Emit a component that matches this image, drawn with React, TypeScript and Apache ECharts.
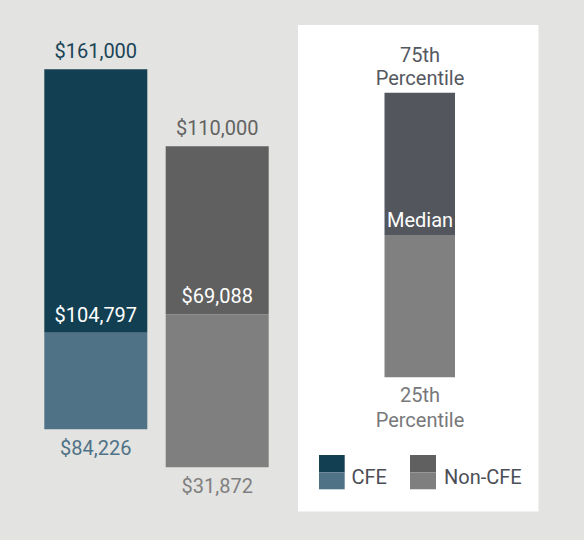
import React, { useEffect, useRef } from "react";
import * as echarts from "echarts";

// ---- data ----
const groups = ["CFE", "Non-CFE"];
const p25 = [84226, 31872];
const median = [104797, 69088];
const p75 = [161000, 110000];

// ---- styling / layout constants ----
const FONT = "Roboto, 'Noto Sans', sans-serif";
const BG = "#e3e3e1";
const darkColors = ["#123f52", "#5f605f"];
const lightColors = ["#4f7287", "#7f7f7f"];
const topLabelColors = ["#1a4458", "#636363"];
const lowLabelColors = ["#4f7287", "#808080"];
const barTopPx = [69.3, 146.3];
const barBottomPx = [429.3, 467.3];
const barLeftPx = [44.3, 165.7];
const barWidthPx = 103;
const CHART_H = 540;

const fmt = (v: number) => "$" + v.toLocaleString("en-US");

export default function App() {
  const ref = useRef<HTMLDivElement>(null);

  useEffect(() => {
    document.body.style.margin = "0";
    if (!ref.current) return;
    const chart = echarts.init(ref.current, undefined, { renderer: "svg" });

    const grids: any[] = [];
    const xAxes: any[] = [];
    const yAxes: any[] = [];
    const series: any[] = [];

    groups.forEach((g, i) => {
      const pxPerUnit = (barBottomPx[i] - barTopPx[i]) / (p75[i] - p25[i]);
      const height = CHART_H - barTopPx[i];
      const axisMin = p25[i] - (CHART_H - barBottomPx[i]) / pxPerUnit;
      grids.push({ left: barLeftPx[i], top: barTopPx[i], width: barWidthPx, height });
      xAxes.push({ type: "category", gridIndex: i, data: [g], show: false });
      yAxes.push({ type: "value", gridIndex: i, min: axisMin, max: p75[i], show: false });
      const stack = "s" + i;
      series.push({
        type: "bar",
        name: g + "-base",
        xAxisIndex: i,
        yAxisIndex: i,
        stack,
        barWidth: "100%",
        silent: true,
        itemStyle: { color: "rgba(0,0,0,0)" },
        data: [p25[i]],
        label: {
          show: true,
          position: "insideTop",
          distance: 8.5,
          formatter: () => fmt(p25[i]),
          color: lowLabelColors[i],
          fontSize: 20,
          fontFamily: FONT,
        },
      });
      series.push({
        type: "bar",
        name: g + "-lower",
        xAxisIndex: i,
        yAxisIndex: i,
        stack,
        barWidth: "100%",
        itemStyle: { color: lightColors[i] },
        data: [median[i] - p25[i]],
        z: 3,
        label: {
          show: true,
          position: "top",
          distance: 8,
          formatter: () => fmt(median[i]),
          color: "#ffffff",
          fontSize: 20,
          fontFamily: FONT,
        },
      });
      series.push({
        type: "bar",
        name: g + "-upper",
        xAxisIndex: i,
        yAxisIndex: i,
        stack,
        barWidth: "100%",
        itemStyle: { color: darkColors[i] },
        data: [p75[i] - median[i]],
        z: 2,
        label: {
          show: true,
          position: "top",
          distance: 8,
          formatter: () => fmt(p75[i]),
          color: topLabelColors[i],
          fontSize: 20,
          fontFamily: FONT,
        },
      });
    });

    const txt = (text: string, x: number, y: number, fill: string, align = "center") => ({
      type: "text",
      x,
      y,
      silent: true,
      style: {
        text,
        fill,
        fontSize: 20,
        fontFamily: FONT,
        align,
        verticalAlign: "middle",
      },
    });

    const graphic: any[] = [
      { type: "rect", shape: { x: 298, y: 25, width: 240.5, height: 486.5 }, style: { fill: "#ffffff" }, silent: true, z: 0 },
      { type: "rect", shape: { x: 384.5, y: 92.7, width: 70.5, height: 142.3 }, style: { fill: "#53565d" }, silent: true },
      { type: "rect", shape: { x: 384.5, y: 235, width: 70.5, height: 142.3 }, style: { fill: "#808080" }, silent: true },
      txt("75th", 420, 54.5, "#55585f"),
      txt("Percentile", 420, 78, "#55585f"),
      txt("Median", 420, 220, "#ffffff"),
      txt("25th", 420, 395, "#77787a"),
      txt("Percentile", 420, 419.5, "#77787a"),
      { type: "rect", shape: { x: 319, y: 455, width: 25.7, height: 17.3 }, style: { fill: darkColors[0] }, silent: true },
      { type: "rect", shape: { x: 319, y: 472.3, width: 25.7, height: 17 }, style: { fill: lightColors[0] }, silent: true },
      txt("CFE", 351.5, 476.5, "#4b4e56", "left"),
      { type: "rect", shape: { x: 410, y: 455, width: 26, height: 17.3 }, style: { fill: darkColors[1] }, silent: true },
      { type: "rect", shape: { x: 410, y: 472.3, width: 26, height: 17 }, style: { fill: lightColors[1] }, silent: true },
      txt("Non-CFE", 444, 476.5, "#4b4e56", "left"),
    ];

    chart.setOption({
      animation: false,
      backgroundColor: BG,
      grid: grids,
      xAxis: xAxes,
      yAxis: yAxes,
      series,
      graphic,
    });

    return () => chart.dispose();
  }, []);

  return <div ref={ref} style={{ width: 584, height: 540 }} />;
}
